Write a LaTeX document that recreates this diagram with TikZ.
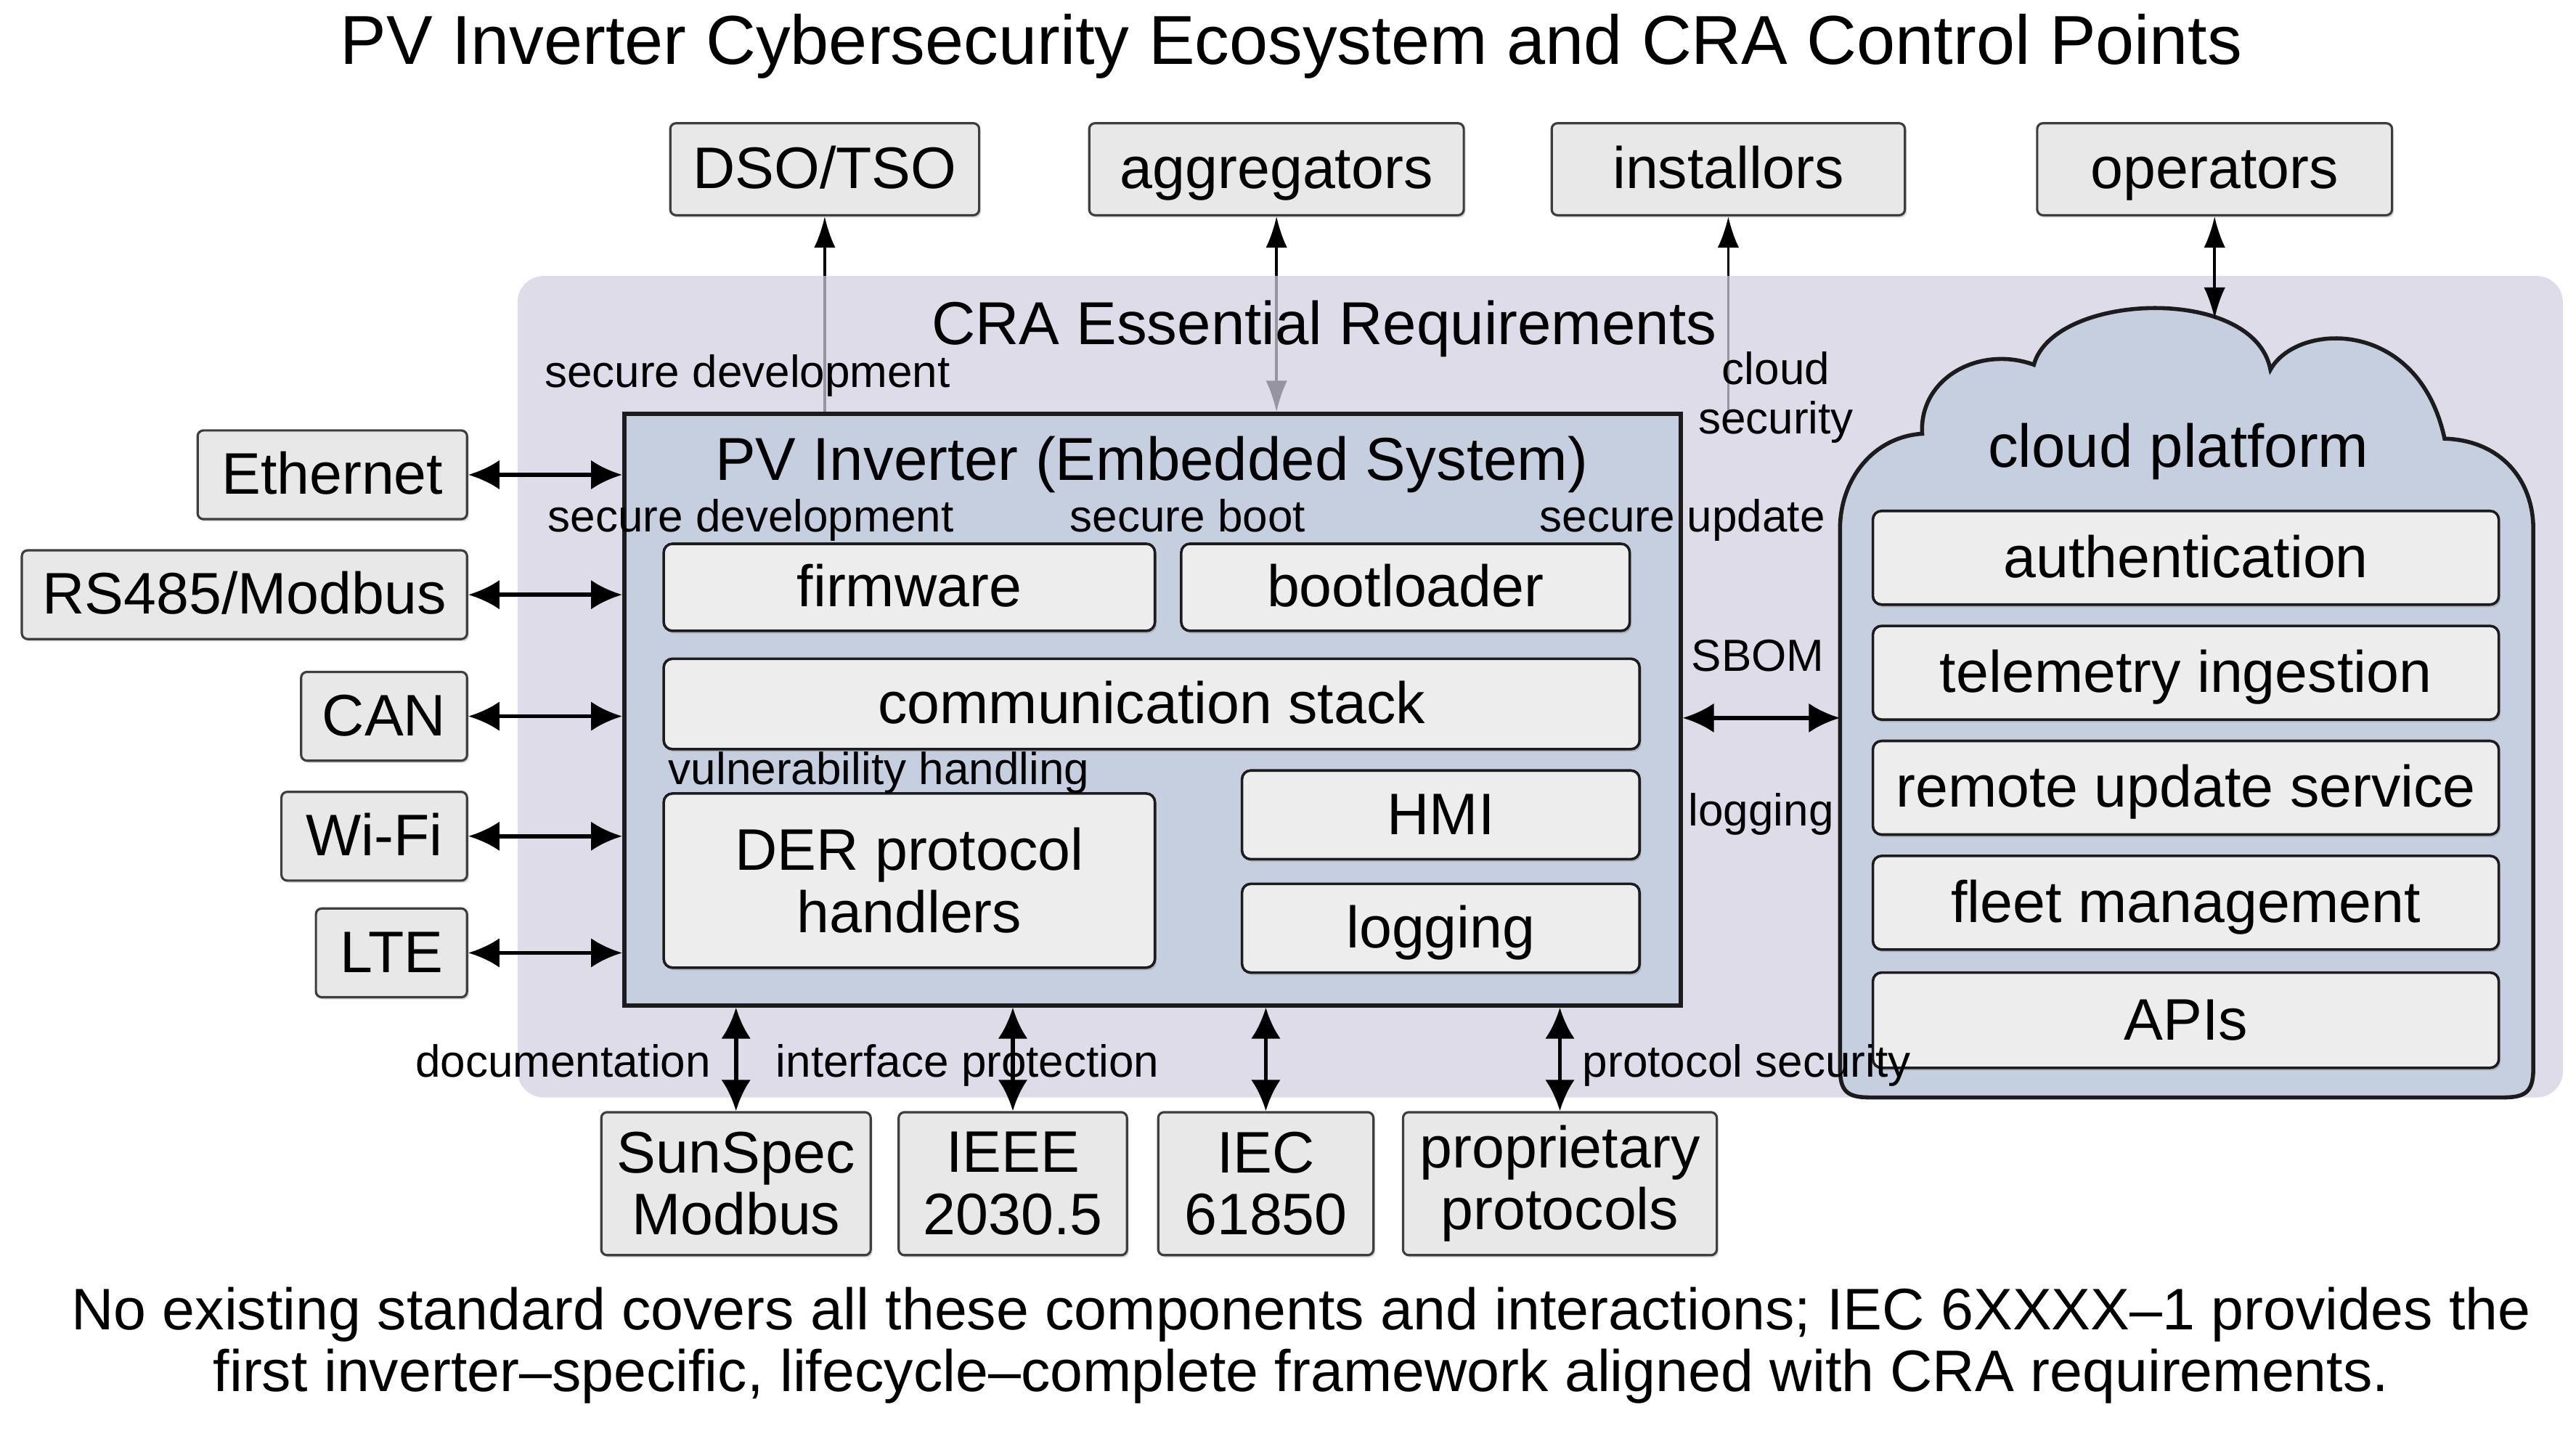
\documentclass[tikz,border=0pt]{standalone}
\usepackage{fontspec}
\setmainfont{Liberation Sans}
\usepackage{xcolor}
\usepackage{tikz}
\usetikzlibrary{arrows.meta,positioning,calc,shadows}
\definecolor{craInk}{HTML}{1C1C1C}
\definecolor{craLavender}{HTML}{D0CEDF}
\definecolor{craSteel}{HTML}{C5CFDF}
\definecolor{craGrey}{HTML}{E8E8E8}
\definecolor{craInner}{HTML}{EDEDED}
\newcommand{\craTitleFont}{\fontsize{24}{28}\selectfont}
\newcommand{\craHeadFont}{\fontsize{21}{24}\selectfont}
\newcommand{\craBoxFont}{\fontsize{20.3}{21.5}\selectfont}
\newcommand{\craNoteFont}{\fontsize{15.6}{17}\selectfont}
\pgfdeclarelayer{back}
\pgfdeclarelayer{mid}
\pgfsetlayers{back,mid,main}
\tikzset{
  boxLine/.style={
    text height=16.5pt,
    text depth=3pt
  },
  noteLine/.style={
    text height=12.5pt,
    text depth=2.6pt
  },
  stakeBase/.style={
    rectangle,
    rounded corners=2pt,
    draw=craInk!85,
    fill=craGrey,
    line width=0.8pt,
    minimum height=10.8mm,
    inner sep=1pt,
    align=center,
    font=\craBoxFont,
    drop shadow={shadow xshift=0.6pt,shadow yshift=-0.8pt,opacity=0.3}
  },
  stakeBox/.style={stakeBase,boxLine},
  partBase/.style={
    rectangle,
    rounded corners=3pt,
    draw=craInk,
    fill=craInner,
    line width=0.9pt,
    minimum height=10.8mm,
    inner sep=1pt,
    align=center,
    font=\craBoxFont,
    drop shadow={shadow xshift=0.6pt,shadow yshift=-0.9pt,opacity=0.35}
  },
  partBox/.style={partBase,boxLine},
  craArea/.style={
    rectangle,
    rounded corners=3.2mm,
    fill=craLavender,
    fill opacity=0.72,
    inner sep=0pt
  },
  systemBox/.style={
    rectangle,
    draw=craInk,
    fill=craSteel,
    line width=1.4pt,
    inner sep=0pt
  },
  cloudShape/.style={
    draw=craInk,
    fill=craSteel,
    line width=1.4pt
  },
  noteBase/.style={
    font=\craNoteFont,
    inner sep=0pt,
    align=center
  },
  reqLabel/.style={noteBase,noteLine},
  linkArrow/.style={
    {Latex[length=3.8mm,width=3.6mm]}-{Latex[length=3.8mm,width=3.6mm]},
    line width=1.4pt,
    draw=black
  },
  upArrow/.style={
    -{Latex[length=3.8mm,width=2.6mm]},
    line width=0.9pt,
    draw=black
  },
  upDownArrow/.style={
    {Latex[length=3.8mm,width=2.6mm]}-{Latex[length=3.8mm,width=2.6mm]},
    line width=0.9pt,
    draw=black
  }
}

\begin{document}
\begin{tikzpicture}[x=0.2mm,y=-0.2mm]
  \useasboundingbox (0,0) rectangle (1568,871);
  \node[font=\craTitleFont] (title) at (786,28) {PV Inverter Cybersecurity Ecosystem and CRA Control Points};

  % stakeholders
  \node[stakeBox,minimum width=37.6mm,minimum height=11.2mm] (dso) at (502,103) {DSO/TSO};
  \node[stakeBox,minimum width=45.6mm,minimum height=11.2mm] (aggregators) at (777,103) {aggregators};
  \node[stakeBox,minimum width=43mm,minimum height=11.2mm] (installors) at (1052,103) {installors};
  \node[stakeBox,minimum width=43.2mm,minimum height=11.2mm] (operators) at (1348,103) {operators};

  % CRA area
  \begin{pgfonlayer}{mid}
    \node[craArea,minimum width=249mm,minimum height=100mm] (cra) at (937.5,418) {};
  \end{pgfonlayer}
  \node[font=\craHeadFont] (craTitle) at (806,200) {CRA Essential Requirements};

  % embedded system
  \node[systemBox,minimum width=128.6mm,minimum height=72mm] (pv) at (701.5,432) {};
  \node[font=\craHeadFont] (pvTitle) at (701,283) {PV Inverter (Embedded System)};
  \node[partBox,minimum width=59.8mm,minimum height=10.6mm] (firmware) at (553.5,357.5) {firmware};
  \node[partBox,minimum width=54.6mm,minimum height=10.6mm] (bootloader) at (855.5,357.5) {bootloader};
  \node[partBox,minimum width=118.8mm,minimum height=11mm] (commStack) at (701,428.5) {communication stack};
  \node[partBase,minimum width=59.8mm,minimum height=21.2mm] (derHandlers) at (553.5,536) {DER protocol\\handlers};
  \node[partBox,minimum width=48.4mm] (hmi) at (877,496) {HMI};
  \node[partBox,minimum width=48.4mm] (logging) at (877,565) {logging};

  % cloud
  \draw[cloudShape] (1120,650) -- (1120,322)
    .. controls (1120,292) and (1140,266) .. (1170,264)
    .. controls (1168,230) and (1205,210) .. (1238,222)
    .. controls (1250,178) and (1372,173) .. (1382,225)
    .. controls (1398,196) and (1472,193) .. (1488,267)
    .. controls (1522,268) and (1542,292) .. (1542,322)
    -- (1542,650) .. controls (1542,664) and (1538,668) .. (1524,668)
    -- (1138,668) .. controls (1124,668) and (1120,664) .. (1120,650) -- cycle;
  \node[font=\craHeadFont] (cloudTitle) at (1326,275) {cloud platform};
  \node[partBox,minimum width=76.2mm,minimum height=11.4mm] (authentication) at (1330.5,339.5) {authentication};
  \node[partBox,minimum width=76.2mm,minimum height=11.4mm] (telemetry) at (1330.5,409.5) {telemetry ingestion};
  \node[partBox,minimum width=76.2mm,minimum height=11.4mm] (remoteUpdate) at (1330.5,479.5) {remote update service};
  \node[partBox,minimum width=76.2mm,minimum height=11.4mm] (fleet) at (1330.5,549.5) {fleet management};
  \node[partBox,minimum width=76.2mm,minimum height=11.6mm] (apis) at (1330.5,621) {APIs};
  \coordinate (cloudTop) at (1348,194);
  \coordinate (cloudWest) at (1120,437);
  \coordinate (cloudSecFoot) at (1052,250);

  % interfaces
  \node[stakeBox,minimum width=32.8mm,anchor=east] (ethernet) at (285,289) {Ethernet};
  \node[stakeBox,minimum width=54.2mm,anchor=east] (rsModbus) at (285,362) {RS485/Modbus};
  \node[stakeBox,minimum width=20.2mm,anchor=east] (can) at (285,436) {CAN};
  \node[stakeBox,minimum width=22.6mm,anchor=east] (wifi) at (285,509) {Wi-Fi};
  \node[stakeBox,minimum width=18.4mm,anchor=east] (lte) at (285,580) {LTE};

  % protocols
  \node[stakeBase,minimum width=32.8mm,minimum height=17.4mm] (sunspec) at (448,720.5) {SunSpec\\Modbus};
  \node[stakeBase,minimum width=27.8mm,minimum height=17.4mm] (ieee) at (616.5,720.5) {IEEE\\2030.5};
  \node[stakeBase,minimum width=26.2mm,minimum height=17.4mm] (iec) at (770.5,720.5) {IEC\\61850};
  \node[stakeBase,minimum width=38.2mm,minimum height=17.4mm] (proprietary) at (949.5,720.5) {proprietary\\protocols};

  % links seen through the CRA area
  \begin{pgfonlayer}{back}
    \draw[upArrow] (pv.north -| dso) -- (dso.south);
    \draw[upDownArrow] (pv.north -| aggregators) -- (aggregators.south);
    \draw[upArrow] (cloudSecFoot) -- (installors.south);
  \end{pgfonlayer}
  \draw[upDownArrow] (cloudTop) -- (operators.south);
  \foreach \port in {ethernet,rsModbus,can,wifi,lte}
    \draw[linkArrow] (\port.east) -- (\port.east -| pv.west);
  \foreach \proto in {sunspec,ieee,iec,proprietary}
    \draw[linkArrow] (pv.south -| \proto) -- (\proto.north);
  \draw[linkArrow] (pv.east |- cloudWest) -- (cloudWest);

  % requirement labels
  \node[reqLabel] (secDevOuter) at (455,227) {secure development};
  \node[noteBase] (cloudSec) at (1081,242) {cloud\\security};
  \node[reqLabel] (secDevInner) at (457,315) {secure development};
  \node[reqLabel] (secBoot) at (723,315) {secure boot};
  \node[reqLabel] (secUpdate) at (1024,315) {secure update};
  \node[reqLabel] (vulnHandling) at (535,469) {vulnerability handling};
  \node[reqLabel] (sbom) at (1070,400) {SBOM};
  \node[reqLabel] (logLabel) at (1072,494) {logging};
  \node[reqLabel,anchor=east] (documentation) at (433,647) {documentation};
  \node[reqLabel] (ifProtection) at (589,647) {interface protection};
  \node[reqLabel,anchor=west] (protoSecurity) at (963,647) {protocol security};

  \node[font=\craBoxFont,align=center] (footer) at (792,819) {No existing standard covers all these components and interactions; IEC 6XXXX--1 provides the\\first inverter--specific, lifecycle--complete framework aligned with CRA requirements.};
\end{tikzpicture}
\end{document}
